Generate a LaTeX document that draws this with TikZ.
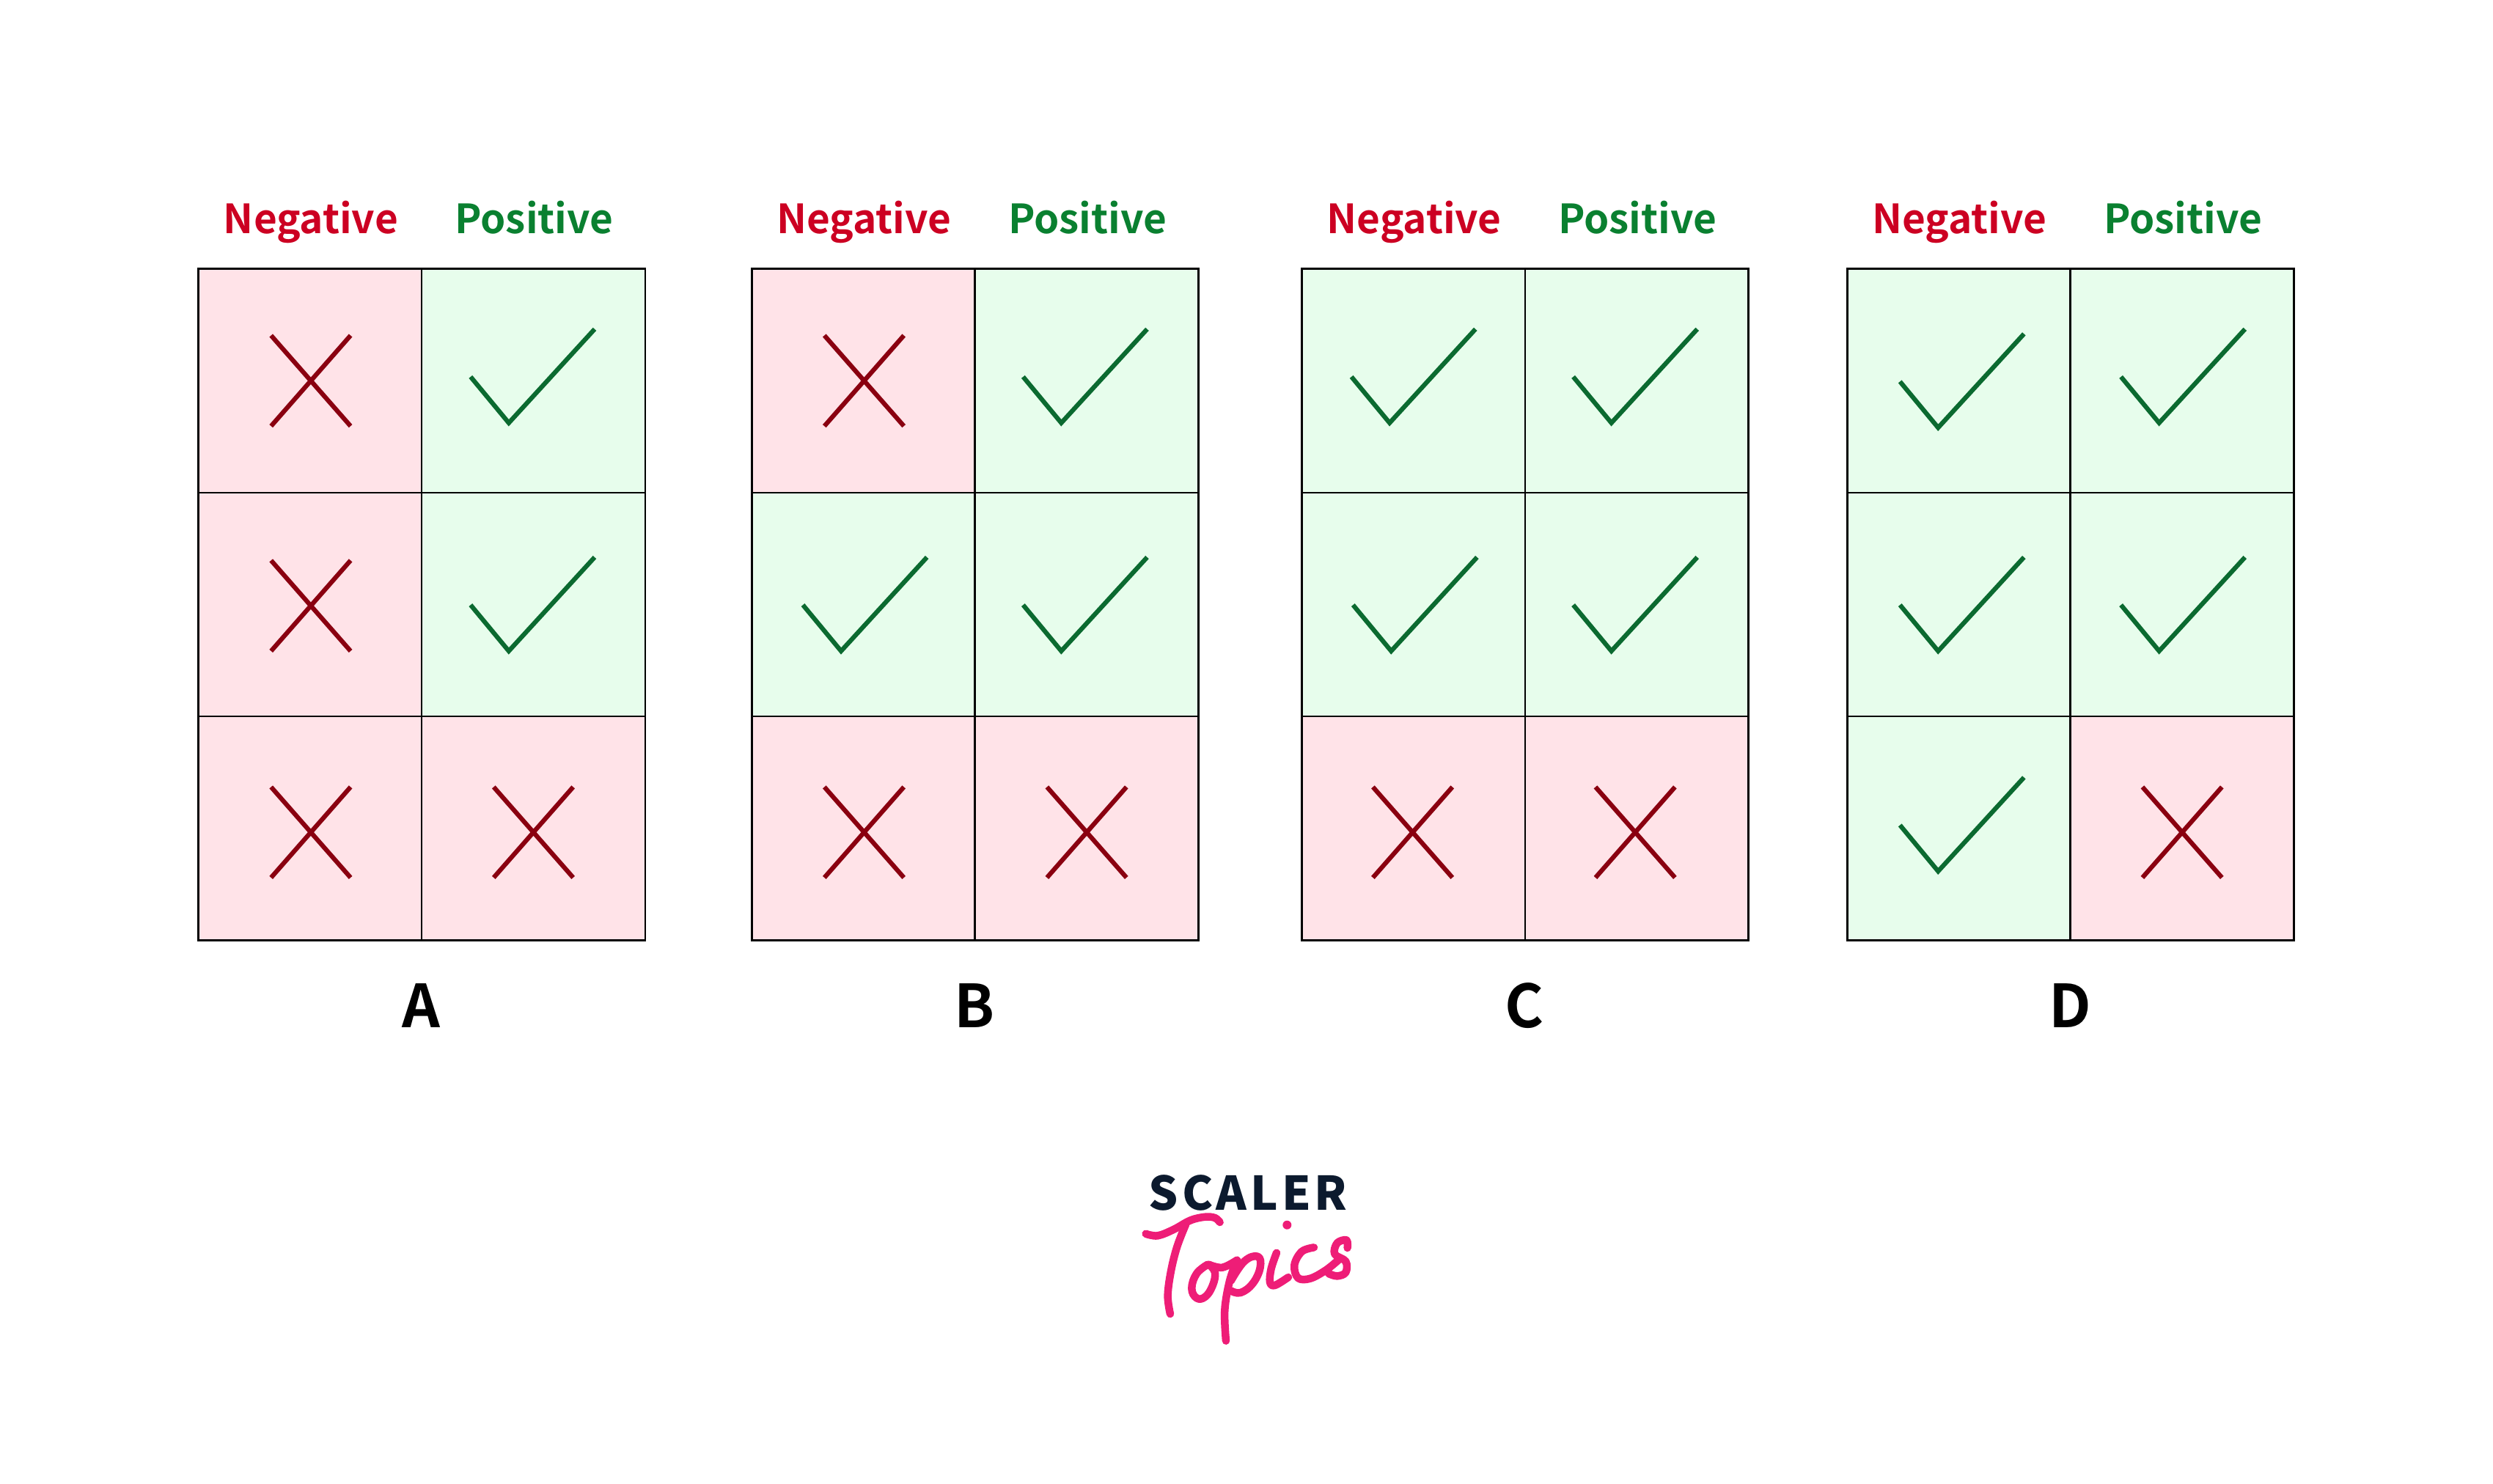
\documentclass[tikz,border=0pt]{standalone}
\usepackage{fontspec}
\setmainfont{Noto Sans CJK SC}
\newfontfamily\lblfont{Noto Sans CJK SC Bold}
\newfontfamily\ltrfont{Noto Sans CJK SC Medium}
\newfontfamily\logofont[LetterSpace=7.5]{Noto Sans CJK SC Black}
\definecolor{cellred}{HTML}{FFE3E8}
\definecolor{cellgreen}{HTML}{E7FDEC}
\definecolor{markred}{HTML}{8A0010}
\definecolor{markgreen}{HTML}{0B6A30}
\definecolor{lblred}{HTML}{CC0022}
\definecolor{lblgreen}{HTML}{0A8030}
\definecolor{logodark}{HTML}{0C1A2E}
\definecolor{logopink}{HTML}{EE1D77}
\tikzset{
  x=0.0216837cm,y=-0.0216837cm,
  negcell/.style={draw=black,line width=0.026cm,fill=cellred,minimum width=3.0466cm,minimum height=3.0574cm,inner sep=0,outer sep=0},
  poscell/.style={negcell,fill=cellgreen},
  crossmark/.style={draw=markred,line width=0.062cm},
  checkmark/.style={draw=markgreen,line width=0.062cm,line join=miter},
  neglabel/.style={text=lblred,font=\lblfont\fontsize{15.6pt}{18pt}\selectfont,inner sep=0},
  poslabel/.style={text=lblgreen,font=\lblfont\fontsize{15.6pt}{18pt}\selectfont,inner sep=0},
  letterlabel/.style={text=black,font=\ltrfont\fontsize{23pt}{26pt}\selectfont,inner sep=0,draw=none},
  inkline/.style={draw=logopink,line width=0.105cm,line cap=round,line join=round}
}
\newcommand{\xmark}[2]{\draw[crossmark] (#1-25,#2-28.5) -- (#1+25,#2+28.5) (#1+25,#2-28.5) -- (#1-25,#2+28.5);}
\newcommand{\vmark}[2]{\draw[checkmark] (#1-24,#2-29) -- (#1,#2) -- (#1+54,#2-59);}
\begin{document}
\begin{tikzpicture}
\useasboundingbox (0,0) rectangle (1568,933.4);
% panel A
\node[negcell] (a11) at (195.1,239.5) {}; \node[poscell] (a12) at (335.5,239.5) {};
\node[negcell] (a21) at (195.1,380.5) {}; \node[poscell] (a22) at (335.5,380.5) {};
\node[negcell] (a31) at (195.1,521) {};   \node[negcell] (a32) at (335.5,521) {};
% panel B
\node[negcell] (b11) at (543.1,239.5) {}; \node[poscell] (b12) at (683.5,239.5) {};
\node[poscell] (b21) at (543.1,380.5) {}; \node[poscell] (b22) at (683.5,380.5) {};
\node[negcell] (b31) at (543.1,521) {};   \node[negcell] (b32) at (683.5,521) {};
% panel C
\node[poscell] (c11) at (889.1,239.5) {}; \node[poscell] (c12) at (1029.5,239.5) {};
\node[poscell] (c21) at (889.1,380.5) {}; \node[poscell] (c22) at (1029.5,380.5) {};
\node[negcell] (c31) at (889.1,521) {};   \node[negcell] (c32) at (1029.5,521) {};
% panel D
\node[poscell] (d11) at (1232.1,239.5) {}; \node[poscell] (d12) at (1372.5,239.5) {};
\node[poscell] (d21) at (1232.1,380.5) {}; \node[poscell] (d22) at (1372.5,380.5) {};
\node[poscell] (d31) at (1232.1,521) {};   \node[negcell] (d32) at (1372.5,521) {};
% headers
\foreach \n/\xa/\xb in {ha/195.5/336,hb/543.5/684,hc/889.5/1030,hd/1232.5/1373}{
  \node[neglabel,anchor=base] (\n n) at (\xa,147) {Negative};
  \node[poslabel,anchor=base] (\n p) at (\xb,147) {Positive};
}
\node[letterlabel,anchor=base] (la) at (265,646.5) {\lblfont A};
\node[letterlabel,anchor=base] (lb) at (613,646.5) {\lblfont B};
\node[letterlabel,anchor=base] (lc) at (959,646.5) {\lblfont C};
\node[letterlabel,anchor=base] (ld) at (1302,646.5) {\lblfont D};
% marks
\xmark{195.5}{239.5}\vmark{320}{266}
\xmark{195.5}{381}\vmark{320}{409.5}
\xmark{195.5}{523.5}\xmark{335.5}{523.5}
\xmark{543.5}{239.5}\vmark{667.5}{266}
\vmark{529}{409.5}\vmark{667.5}{409.5}
\xmark{543.5}{523.5}\xmark{683.5}{523.5}
\vmark{874}{266}\vmark{1013.5}{266}
\vmark{875}{409.5}\vmark{1013.5}{409.5}
\xmark{888.5}{523.5}\xmark{1028.5}{523.5}
\vmark{1219}{269}\vmark{1358}{266}
\vmark{1219}{409.5}\vmark{1358}{409.5}
\vmark{1219}{548}\xmark{1372.5}{523.5}
% logo
\node[anchor=base,text=logodark,font=\logofont\fontsize{18pt}{20pt}\selectfont,inner sep=0] (scaler) at (785,761) {SCALER};
\begin{scope}[shift={(691.9,719.6)},scale=0.15373]
  \draw[inkline] plot[smooth,tension=.6] coordinates {(187,367) (235,375) (300,350) (370,312) (430,298) (470,302) (490,320)};
  \draw[inkline] plot[smooth,tension=.6] coordinates {(350,330) (315,420) (290,520) (277,620) (287,695)};
  \draw[inkline] plot[smooth,tension=.7] coordinates {(440,493) (395,530) (375,590) (395,630) (430,625) (460,580) (470,525) (445,493)};
  \draw[inkline] plot[smooth,tension=.6] coordinates {(445,493) (500,505) (560,475)};
  \draw[inkline] plot[smooth,tension=.6] coordinates {(560,475) (530,560) (510,680) (515,805)};
  \draw[inkline] plot[smooth,tension=.7] coordinates {(535,560) (590,480) (645,460) (655,505) (625,570) (575,608) (535,600)};
  \draw[inkline] plot[smooth,tension=.6] coordinates {(722,445) (700,510) (695,565) (715,578) (770,545)};
  \fill[logopink] (765,331) circle (18);
  \draw[inkline] plot[smooth,tension=.6] coordinates {(875,423) (825,440) (795,495) (810,548) (860,550) (925,515) (980,470)};
  \draw[inkline] plot[smooth,tension=.6] coordinates {(1012,425) (1008,393) (970,405) (960,450) (1005,480) (1005,525) (970,540) (935,530)};
\end{scope}
\end{tikzpicture}
\end{document}
